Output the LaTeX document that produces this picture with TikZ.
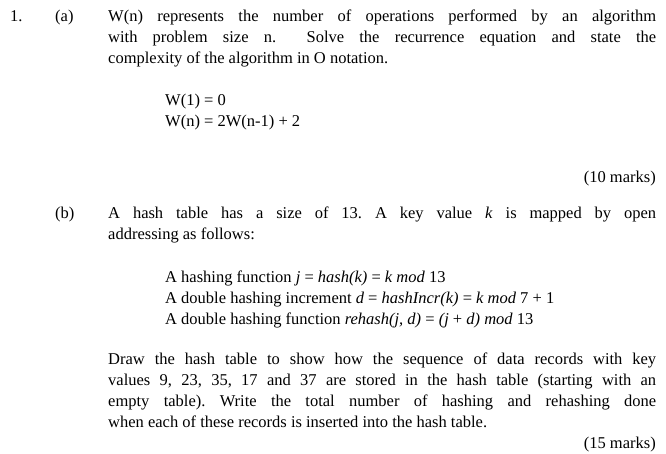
\documentclass[tikz,border=0pt]{standalone}
\usepackage{fontspec}
\setmainfont{Liberation Serif}
\begin{document}
\frenchspacing
\begin{tikzpicture}[x=1pt,y=1pt,every node/.style={anchor=base west,inner sep=0pt,font=\fontsize{16.5}{20}\selectfont}]
\useasboundingbox (0,0) rectangle (666,-454);
\newcommand{\jl}[1]{\makebox[548pt][s]{#1}}
\node (n1) at (10,-22) {1.};
\node (la) at (55,-22) {(a)};
\node (a1) at (108,-22) {\jl{W(n) represents the number of operations performed by an algorithm}};
\node (a2) at (108,-43) {\jl{with problem size n.\ \ Solve the recurrence equation and state the}};
\node (a3) at (108,-64) {complexity of the algorithm in O notation.};
\node (e1) at (165,-106) {W(1) = 0};
\node (e2) at (165,-127) {W(n) = 2W(n-1) + 2};
\node[anchor=base east] (m1) at (656,-183) {(10 marks)};
\node (lb) at (55,-219) {(b)};
\node (b1) at (108,-219) {\jl{A hash table has a size of 13. A key value \textit{k} is mapped by open}};
\node (b2) at (108,-240) {addressing as follows:};
\node (h1) at (165,-282) {A hashing function \textit{j} = \textit{hash(k)} = \textit{k mod} 13};
\node (h2) at (165,-303) {A double hashing increment \textit{d} = \textit{hashIncr(k)} = \textit{k mod} 7 + 1};
\node (h3) at (165,-324) {A double hashing function \textit{rehash(j, d)} = \textit{(j} + \textit{d) mod} 13};
\node (c1) at (108,-364) {\jl{Draw the hash table to show how the sequence of data records with key}};
\node (c2) at (108,-385) {\jl{values 9, 23, 35, 17 and 37 are stored in the hash table (starting with an}};
\node (c3) at (108,-406) {\jl{empty table). Write the total number of hashing and rehashing done}};
\node (c4) at (108,-427) {when each of these records is inserted into the hash table.};
\node[anchor=base east] (m2) at (656,-448) {(15 marks)};
\end{tikzpicture}
\end{document}
